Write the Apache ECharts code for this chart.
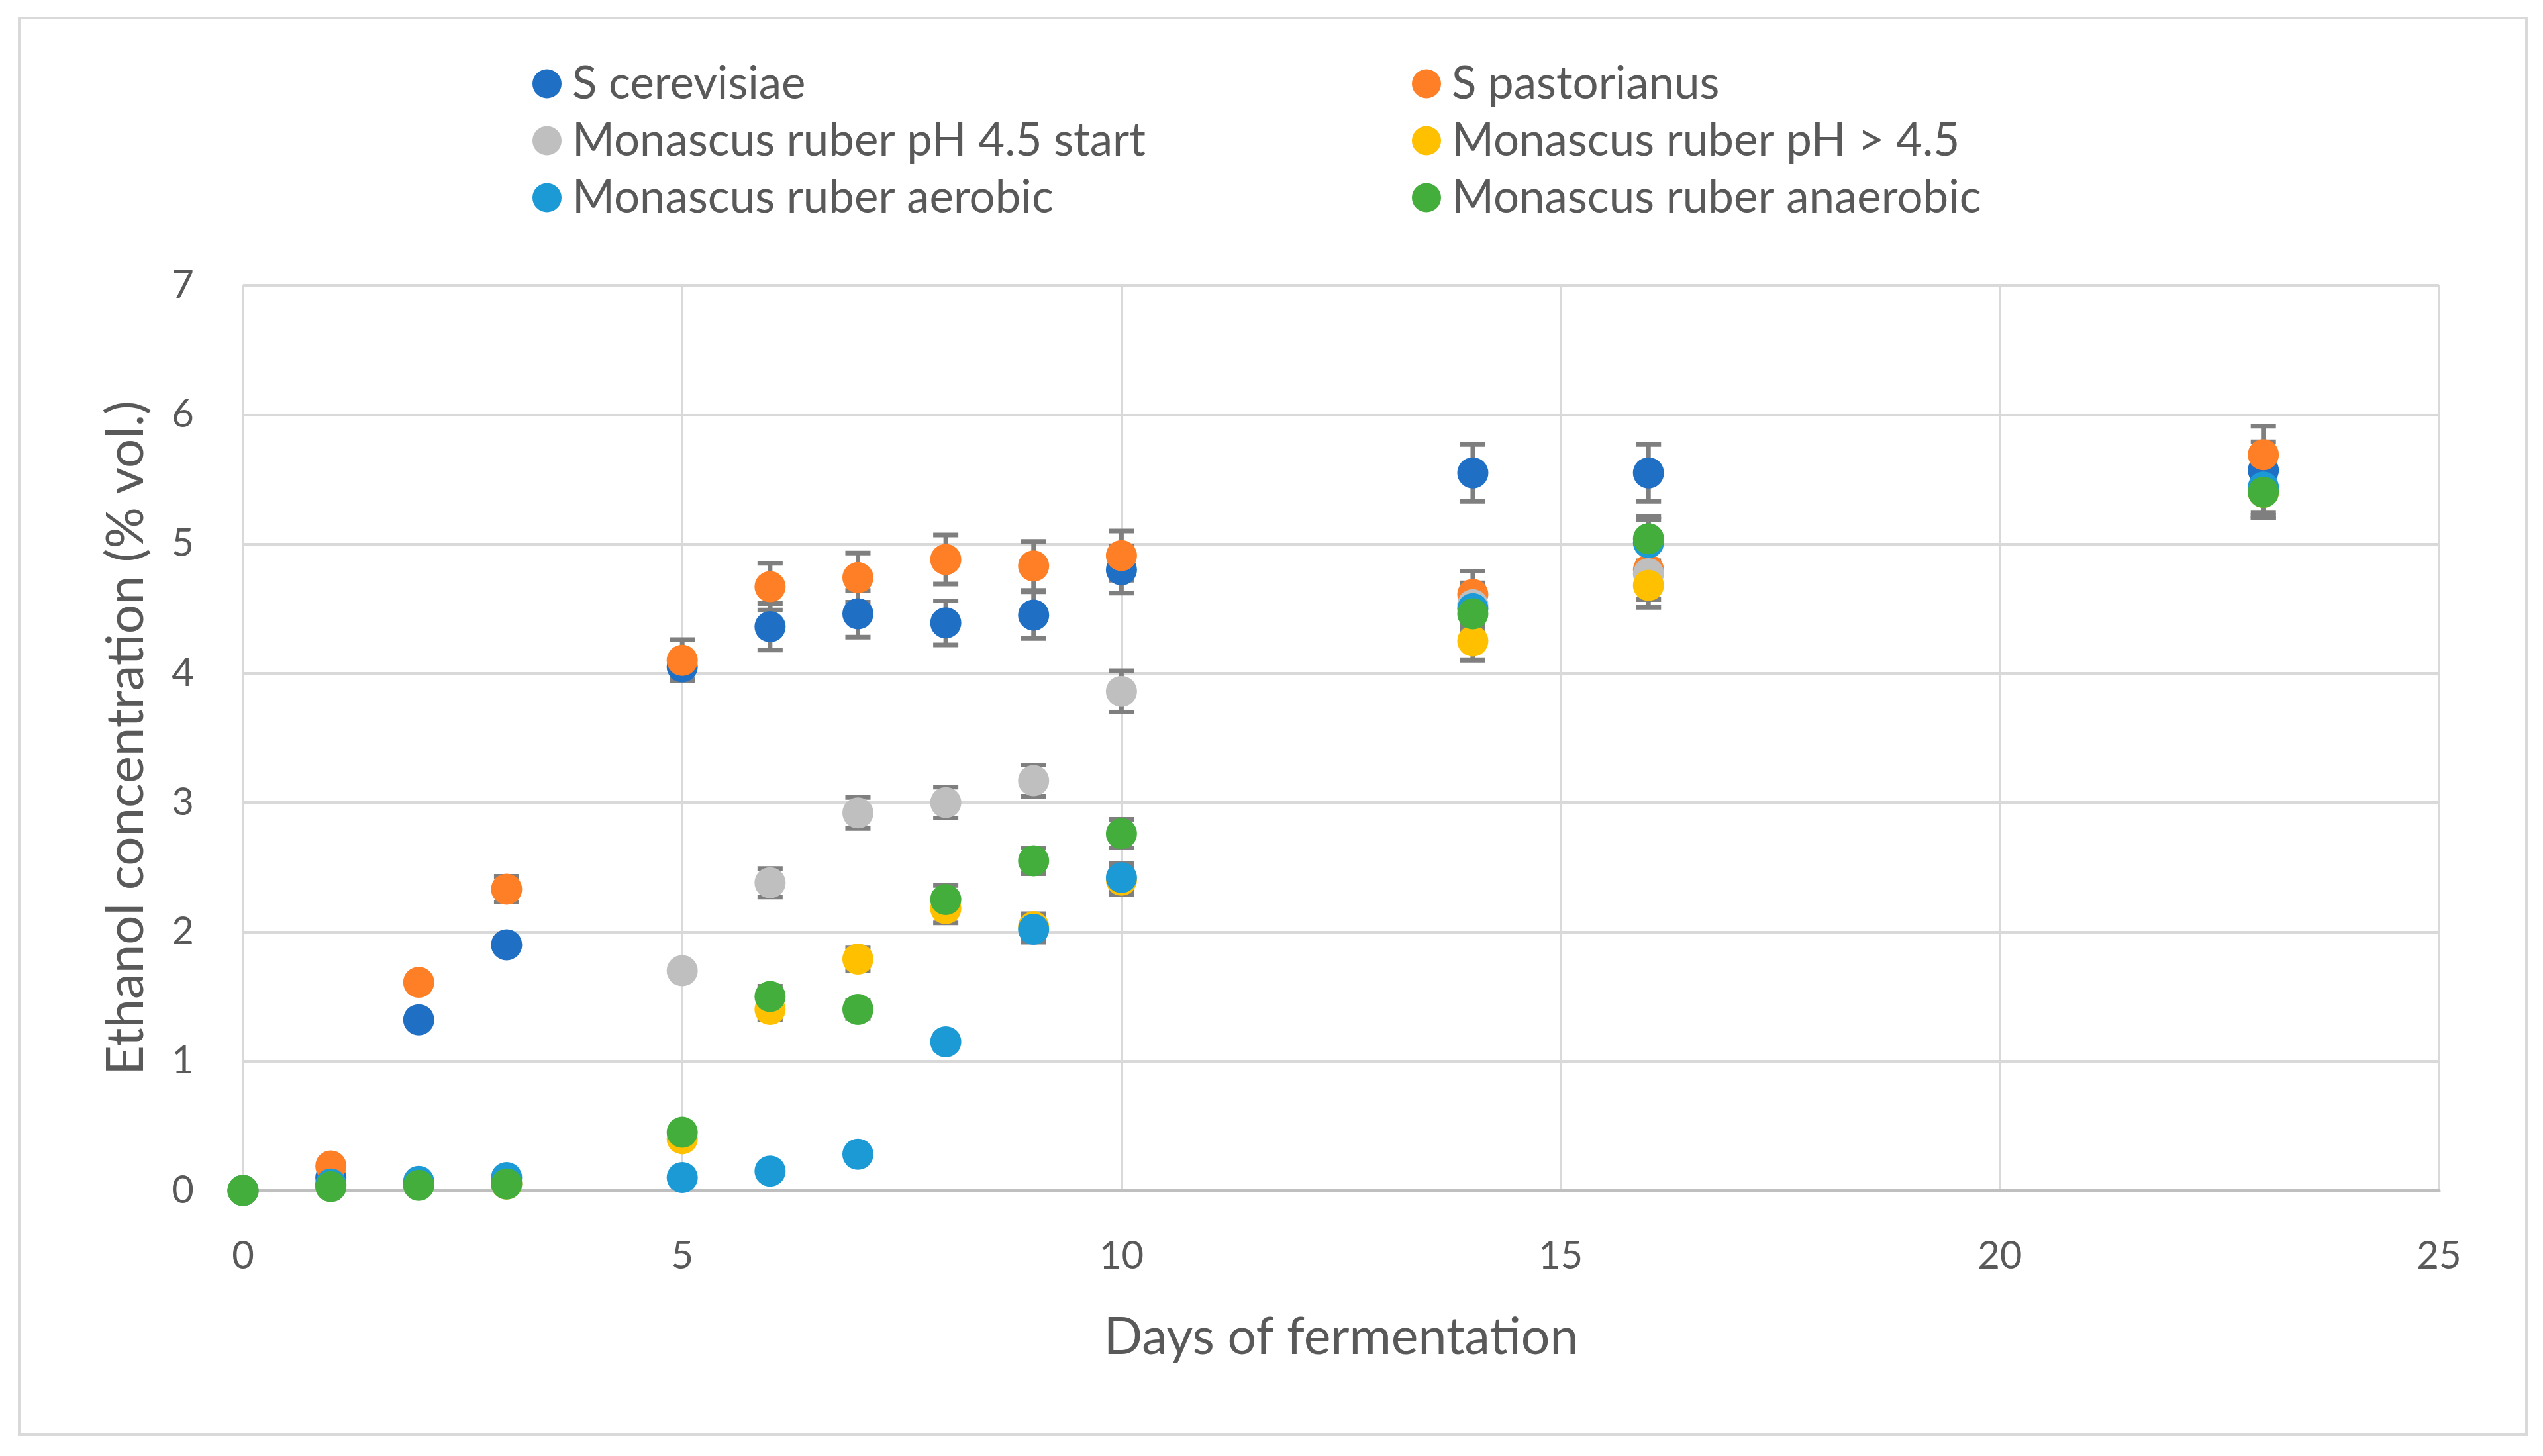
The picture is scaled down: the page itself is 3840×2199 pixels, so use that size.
<!DOCTYPE html>
<html lang='en'>
  <head>
    <meta charset='utf-8'>
    <title>Ethanol concentration</title>
    <style>
      html, body { margin: 0; padding: 0; background: #fff; }
      #main { width: 3840px; height: 2199px; }
    </style>
  </head>
  <body>
    <div id="main"></div>
    <script src="https://cdn.jsdelivr.net/npm/echarts@6/dist/echarts.min.js"></script>
    <script>
      // days of fermentation (x)
      var days = [0, 1, 2, 3, 5, 6, 7, 8, 9, 10, 14, 16, 23];

      var seriesNames = ['S cerevisiae', 'S pastorianus', 'Monascus ruber pH 4.5 start',
        'Monascus ruber pH > 4.5', 'Monascus ruber aerobic', 'Monascus ruber anaerobic'];

      // ethanol, % vol.
      var cerevisiae = [0, 0.1, 1.32, 1.9, 4.05, 4.36, 4.46, 4.39, 4.45, 4.8, 5.55, 5.55, 5.57];
      var pastorianus = [0, 0.19, 1.61, 2.33, 4.1, 4.67, 4.74, 4.88, 4.83, 4.91, 4.61, 4.8, 5.69];
      var phStart = [0, 0.03, 0.05, 0.06, 1.7, 2.38, 2.92, 3.0, 3.17, 3.86, 4.53, 4.77, 5.42];
      var phAbove = [0, 0.04, 0.05, 0.05, 0.4, 1.4, 1.79, 2.18, 2.04, 2.4, 4.25, 4.68, 5.4];
      var aerobic = [0, 0.05, 0.07, 0.1, 0.1, 0.15, 0.28, 1.15, 2.02, 2.42, 4.5, 5.01, 5.44];
      var anaerobic = [0, 0.03, 0.04, 0.05, 0.45, 1.5, 1.4, 2.25, 2.55, 2.76, 4.46, 5.04, 5.4];

      // error bar half-heights
      var cerevisiaeErr = [0, 0.02, 0.03, 0.04, 0.1, 0.18, 0.18, 0.17, 0.18, 0.18, 0.22, 0.22, 0.22];
      var pastorianusErr = [0, 0.02, 0.03, 0.1, 0.16, 0.18, 0.19, 0.19, 0.19, 0.19, 0.18, 0.17, 0.22];
      var phStartErr = [0, 0.01, 0.01, 0.01, 0.05, 0.11, 0.12, 0.12, 0.12, 0.16, 0.17, 0.2, 0.2];
      var phAboveErr = [0, 0.01, 0.01, 0.01, 0.04, 0.08, 0.09, 0.11, 0.1, 0.11, 0.15, 0.17, 0.2];
      var aerobicErr = [0, 0.01, 0.01, 0.01, 0.02, 0.03, 0.04, 0.06, 0.1, 0.11, 0.17, 0.18, 0.2];
      var anaerobicErr = [0, 0.01, 0.01, 0.01, 0.04, 0.08, 0.07, 0.11, 0.1, 0.11, 0.17, 0.17, 0.2];

      var colors = ['#1F6FC5', '#FF7F27', '#BFBFBF', '#FFC000', '#1C9AD6', '#43AE3C'];

      var values = [cerevisiae, pastorianus, phStart, phAbove, aerobic, anaerobic];
      var errors = [cerevisiaeErr, pastorianusErr, phStartErr, phAboveErr, aerobicErr, anaerobicErr];

      var FONT = 'Lato';
      var TXT = '#595959';

      function errorBar(params, api) {
        var x = api.value(0), y = api.value(1), e = api.value(2);
        if (!e) return;
        var top = api.coord([x, y + e]);
        var bot = api.coord([x, y - e]);
        var w = 19;
        var st = { stroke: '#7F7F7F', lineWidth: 7 };
        return {
          type: 'group',
          children: [
            { type: 'line', shape: { x1: top[0], y1: top[1], x2: bot[0], y2: bot[1] }, style: st },
            { type: 'line', shape: { x1: top[0] - w, y1: top[1], x2: top[0] + w, y2: top[1] }, style: st },
            { type: 'line', shape: { x1: bot[0] - w, y1: bot[1], x2: bot[0] + w, y2: bot[1] }, style: st }
          ]
        };
      }

      var series = [];
      values.forEach(function(vals, k) {
        series.push({
          name: 'err' + k,
          type: 'custom',
          z: 1,
          renderItem: errorBar,
          data: days.map(function(d, i) { return [d, vals[i], errors[k][i]]; })
        });
      });
      values.forEach(function(vals, k) {
        series.push({
          name: seriesNames[k],
          type: 'scatter',
          z: 2,
          symbol: 'circle',
          symbolSize: 47,
          itemStyle: { color: colors[k], opacity: 1 },
          data: days.map(function(d, i) { return [d, vals[i]]; })
        });
      });

      var legendBase = {
        orient: 'vertical',
        top: 87,
        icon: 'circle',
        itemWidth: 66,
        itemHeight: 44,
        itemGap: 17,
        textStyle: { fontFamily: FONT, fontSize: 69, color: TXT }
      };

      var myChart = echarts.init(document.getElementById('main'));
      var option = {
        animation: false,
        backgroundColor: '#fff',
        color: colors,
        textStyle: { fontFamily: FONT },
        graphic: [{
          type: 'rect',
          shape: { x: 29, y: 27, width: 3786, height: 2140 },
          style: { fill: 'none', stroke: '#D9D9D9', lineWidth: 4 }
        }],
        legend: [
          Object.assign({}, legendBase, { left: 799, data: [seriesNames[0], seriesNames[2], seriesNames[4]] }),
          Object.assign({}, legendBase, { left: 2127, data: [seriesNames[1], seriesNames[3], seriesNames[5]] })
        ],
        grid: { left: 367, right: 157, top: 431, bottom: 401 },
        xAxis: {
          type: 'value',
          min: 0, max: 25, interval: 5,
          axisLine: { show: true, lineStyle: { color: '#BFBFBF', width: 5 } },
          axisTick: { show: false },
          splitLine: { show: true, lineStyle: { color: '#D9D9D9', width: 4 } },
          axisLabel: { color: TXT, fontSize: 58, margin: 70, fontFamily: FONT },
          name: 'Days of fermentation',
          nameLocation: 'middle',
          nameGap: 184,
          nameTextStyle: { color: TXT, fontSize: 77, fontFamily: FONT }
        },
        yAxis: {
          type: 'value',
          min: 0, max: 7, interval: 1,
          axisLine: { show: false },
          axisTick: { show: false },
          splitLine: { show: true, lineStyle: { color: '#D9D9D9', width: 4 } },
          axisLabel: { color: TXT, fontSize: 58, margin: 74, fontFamily: FONT },
          name: 'Ethanol concentration (% vol.)',
          nameLocation: 'middle',
          nameGap: 137,
          nameTextStyle: { color: TXT, fontSize: 78, fontFamily: FONT }
        },
        series: series
      };
      myChart.setOption(option);
    </script>
  </body>
</html>
